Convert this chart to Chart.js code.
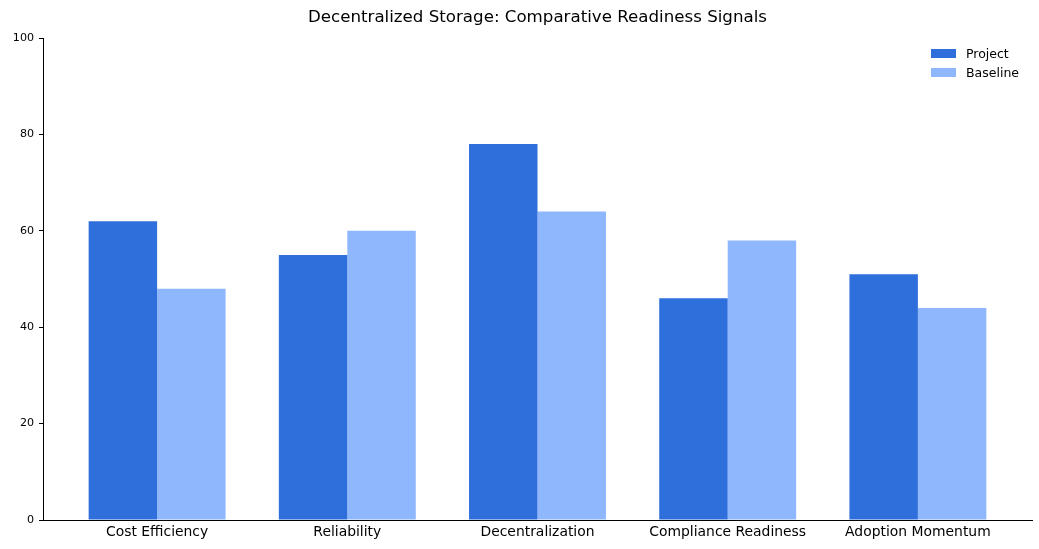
<!DOCTYPE html>
<html><head><meta charset="utf-8">
<script src="https://cdn.jsdelivr.net/npm/chart.js@4/dist/chart.umd.min.js"></script>
<style>html,body{margin:0;padding:0;background:#fff}#wrap{width:1039px;height:549px}</style>
</head><body><div id="wrap"><canvas id="c" width="1039" height="549"></canvas></div>
<script>
const categories = ["Cost Efficiency", "Reliability", "Decentralization", "Compliance Readiness", "Adoption Momentum"];
const projectValues = [62, 55, 78, 46, 51];
const baselineValues = [48, 60, 64, 58, 44];
const yTicks = [0, 20, 40, 60, 80, 100];
const titleText = "Decentralized Storage: Comparative Readiness Signals";

const FONT = "'DejaVu Sans', sans-serif";

const titlePlugin = {
  id: 'customTitle',
  afterDraw(chart) {
    const ctx = chart.ctx;
    ctx.save();
    ctx.font = "16.67px " + FONT;
    ctx.fillStyle = '#000';
    ctx.textAlign = 'center';
    ctx.textBaseline = 'middle';
    ctx.fillText(titleText, (chart.chartArea.left + chart.chartArea.right) / 2, 18);
    const ds = chart.data.datasets;
    ctx.font = "12.5px " + FONT;
    ctx.textAlign = 'left';
    ds.forEach((d, i) => {
      const y = 54 + i * 19;
      ctx.fillStyle = d.backgroundColor;
      ctx.fillRect(931, y - 5, 25, 9);
      ctx.fillStyle = '#000';
      ctx.fillText(d.label, 966, y + 1);
    });
    ctx.restore();
  }
};

new Chart(document.getElementById('c'), {
  type: 'bar',
  data: {
    datasets: [
      { label: 'Project', data: projectValues.map((v, i) => ({x: i, y: v})), backgroundColor: '#2f6fdb', categoryPercentage: 0.72, barPercentage: 1.0 },
      { label: 'Baseline', data: baselineValues.map((v, i) => ({x: i, y: v})), backgroundColor: '#8fb7fd', categoryPercentage: 0.72, barPercentage: 1.0 }
    ]
  },
  options: {
    responsive: false,
    animation: false,
    layout: { padding: { top: 38, right: 7, left: 0, bottom: 0 } },
    plugins: { legend: { display: false }, title: { display: false }, tooltip: { enabled: false } },
    scales: {
      x: {
        type: 'linear',
        min: -0.6, max: 4.6,
        offset: false,
        grid: { display: false, drawTicks: false, tickLength: 0 },
        border: { display: true, color: '#000', width: 1 },
        afterBuildTicks(scale) { scale.ticks = categories.map((c, i) => ({ value: i })); },
        ticks: {
          autoSkip: false, maxRotation: 0, padding: 4,
          color: '#000', font: { family: FONT, size: 13.9 },
          callback: (v) => categories[v] ?? ''
        },
        afterFit(scale) { scale.height = 29; }
      },
      y: {
        min: 0, max: 100,
        afterBuildTicks(scale) { scale.ticks = yTicks.map(v => ({ value: v })); },
        grid: { display: true, drawOnChartArea: false, drawTicks: true, tickLength: 4, color: '#000' },
        border: { display: true, color: '#000', width: 1 },
        ticks: { color: '#000', padding: 5, font: { family: FONT, size: 11.1 } },
        afterFit(scale) { scale.width = 43; }
      }
    }
  },
  plugins: [titlePlugin]
});
</script></body></html>
